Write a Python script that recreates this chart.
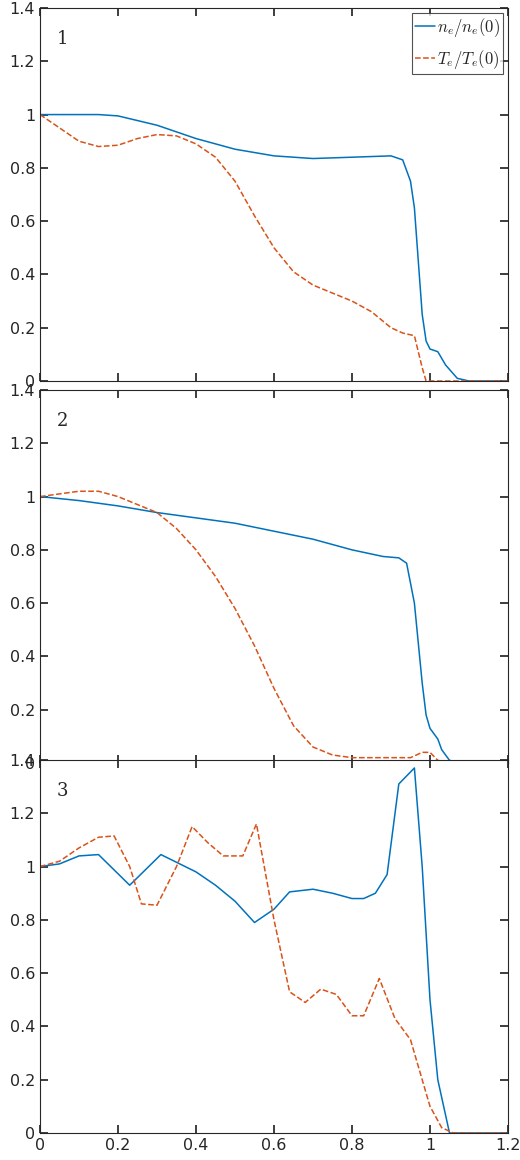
import numpy as np, pandas as pd, seaborn as sns, matplotlib
matplotlib.use("Agg")
import matplotlib.pyplot as plt

sns.set_theme(style="ticks")
plt.rcParams['font.family'] = ['DejaVu Sans']
plt.rcParams['mathtext.fontset'] = 'cm'

x1_ne = [0,0.1,0.15,0.2,0.3,0.4,0.5,0.6,0.7,0.8,0.9,0.93,0.95,0.96,0.97,0.98,0.99,1.0,1.02,1.04,1.07,1.1,1.2]
y1_ne = [1.0,1.0,1.0,0.995,0.96,0.91,0.87,0.845,0.835,0.84,0.845,0.83,0.75,0.65,0.45,0.25,0.15,0.12,0.11,0.06,0.01,0,0]
x1_te = [0,0.05,0.1,0.15,0.2,0.25,0.3,0.35,0.4,0.45,0.5,0.55,0.6,0.65,0.7,0.75,0.8,0.85,0.9,0.93,0.96,0.98,0.99,1.2]
y1_te = [1.0,0.95,0.9,0.88,0.885,0.91,0.925,0.92,0.89,0.84,0.75,0.62,0.5,0.41,0.36,0.33,0.3,0.26,0.2,0.18,0.17,0.05,0.0,0]
x2_ne = [0,0.1,0.2,0.3,0.4,0.5,0.6,0.7,0.8,0.88,0.92,0.94,0.96,0.97,0.98,0.99,1.0,1.02,1.03,1.05,1.08,1.2]
y2_ne = [1.0,0.985,0.965,0.94,0.92,0.9,0.87,0.84,0.8,0.775,0.77,0.75,0.6,0.45,0.3,0.18,0.13,0.09,0.05,0.01,0,0]
x2_te = [0,0.05,0.1,0.15,0.2,0.25,0.3,0.35,0.4,0.45,0.5,0.55,0.6,0.65,0.7,0.75,0.8,0.9,0.95,0.98,1.0,1.02,1.05,1.2]
y2_te = [1.0,1.01,1.02,1.02,1.0,0.97,0.94,0.88,0.8,0.7,0.58,0.44,0.28,0.14,0.06,0.03,0.02,0.02,0.02,0.04,0.04,0.01,0,0]
x3_ne = [0,0.05,0.1,0.15,0.23,0.31,0.4,0.45,0.5,0.55,0.6,0.64,0.7,0.75,0.8,0.83,0.86,0.89,0.92,0.96,0.98,1.0,1.02,1.05,1.2]
y3_ne = [1.0,1.01,1.04,1.045,0.93,1.045,0.98,0.93,0.87,0.79,0.84,0.905,0.915,0.9,0.88,0.88,0.9,0.97,1.31,1.37,1.0,0.5,0.2,0.0,0]
x3_te = [0,0.05,0.1,0.15,0.19,0.23,0.26,0.3,0.35,0.39,0.43,0.47,0.52,0.555,0.6,0.64,0.68,0.72,0.76,0.8,0.83,0.87,0.91,0.95,0.98,1.0,1.03,1.06,1.2]
y3_te = [1.0,1.02,1.07,1.11,1.115,1.0,0.86,0.855,1.0,1.15,1.09,1.04,1.04,1.16,0.8,0.53,0.49,0.54,0.52,0.44,0.44,0.58,0.43,0.35,0.2,0.1,0.02,0.0,0]

panels = [(x1_ne,y1_ne,x1_te,y1_te),(x2_ne,y2_ne,x2_te,y2_te),(x3_ne,y3_ne,x3_te,y3_te)]
blue, orange = '#0072BD', '#D95319'

fig = plt.figure(figsize=(5.2, 11.6), dpi=100)
tops = [8, 390, 760]; h = 373
for i, (xn, yn, xt, yt) in enumerate(panels):
    t = tops[i]
    ax = fig.add_axes([40/520, 1-(t+h)/1160, 468/520, h/1160])
    sns.lineplot(x=xn, y=yn, ax=ax, color=blue, lw=1.1, label=r'$n_e/n_e(0)$')
    sns.lineplot(x=xt, y=yt, ax=ax, color=orange, lw=1.1, ls='--', label=r'$T_e/T_e(0)$')
    ax.set_xlim(0, 1.2); ax.set_ylim(0, 1.4)
    ax.set_xticks(np.arange(0, 1.21, 0.2))
    ax.set_yticks(np.arange(0, 1.41, 0.2))
    ax.set_yticklabels(['0','0.2','0.4','0.6','0.8','1','1.2','1.4'])
    ax.tick_params(direction='in', top=True, right=True, labelsize=11.5, colors='#262626')
    for s in ax.spines.values():
        s.set_linewidth(0.8); s.set_color('#262626')
    ax.text(0.035, 0.94, str(i+1), transform=ax.transAxes, fontsize=13,
            fontfamily='DejaVu Serif', va='top')
    if i < 2:
        ax.set_xticklabels([])
    else:
        ax.set_xticklabels(['0','0.2','0.4','0.6','0.8','1','1.2'])
        ax.set_xlabel(r'$\rho_{\rm pol}$', fontsize=13)
    if i == 0:
        leg = ax.legend(loc='upper right', fontsize=12, frameon=True, fancybox=False,
                        borderaxespad=0.3, handlelength=1.2, handletextpad=0.1, borderpad=0.2)
        leg.get_frame().set_edgecolor('#262626'); leg.get_frame().set_linewidth(0.8)
    else:
        ax.get_legend().remove()
fig.savefig('out.png', dpi=100)
